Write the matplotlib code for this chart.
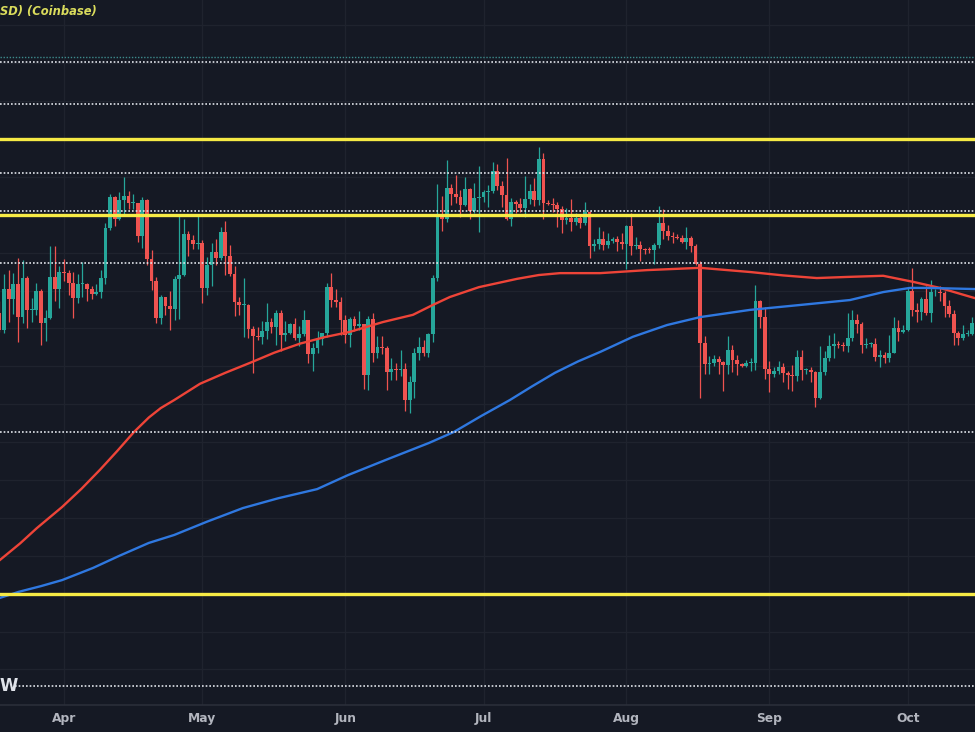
import matplotlib
matplotlib.use("Agg")
import matplotlib.pyplot as plt
import matplotlib.dates as mdates
import numpy as np
import pandas as pd

# daily candles, 18 Mar -> 15 Oct 2023 (BTC/USD, Coinbase)
opens = [
    27420, 26960, 28030, 27790, 28170, 27300, 28340, 27480, 27490, 27990, 27140, 27270, 28360, 28030,
    28480, 28470, 28200, 27800, 28170, 28170, 28040, 27920, 27950, 28330, 29650, 30470, 29900, 30400, 30490,
    30310, 30320, 29440, 30390, 28820, 28250, 27270, 27820, 27590, 27520, 28300, 28420, 29480, 29330, 29240,
    29250, 28070, 28680, 29030, 28850, 29540, 28900, 28450, 27700, 27630, 27630, 26990, 26800, 26780, 26930,
    27170, 27030, 27400, 26830, 26890, 27120, 26750, 26850, 27220, 26330, 26480, 26720, 26870, 28090, 27750, 27700,
    27220, 26820, 27250, 27070, 27120, 25760, 27240, 26340, 26500, 26480, 25850, 25940, 25900, 25920, 25120,
    25580, 26340, 26510, 26340, 26850, 28330, 30000, 29890, 30700, 30550, 30470, 30270, 30690, 30090, 30450,
    30480, 30590, 30620, 31160, 30770, 30510, 29900, 30350, 30290, 30170, 30410, 30620, 30390, 31460, 30320,
    30290, 30250, 30140, 29860, 29910, 29800, 29910, 29790, 30080, 29180, 29230, 29350, 29210, 29320, 29360, 29280,
    29230, 29700, 29180, 29190, 29110, 29070, 29060, 29200, 29770, 29580, 29440, 29420, 29400, 29280, 29400,
    29170, 28700, 26620, 26050, 26100, 26190, 26120, 26040, 26430, 26170, 26050, 26010, 26090, 26100, 27730, 27300,
    25930, 25800, 25870, 25970, 25830, 25780, 25750, 26240, 25900, 25900, 25840, 25160, 25840, 26230, 26530,
    26600, 26570, 26530, 26760, 27210, 27130, 26570, 26580, 26580, 26250, 26300, 26220, 26360, 27020, 26910,
    26970, 27990, 27500, 27430, 27790, 27410, 27950, 27970, 27940, 27590, 27390, 26870, 26760, 26860, 26860,
]
highs = [
    27730, 28430, 28540, 28470, 28870, 28800, 28390, 27800, 28200, 28040, 27500, 29180, 29170, 28660,
    28820, 28530, 28490, 28450, 28760, 28190, 28110, 28170, 28530, 29770, 30560, 30500, 30600, 31000, 30620,
    30550, 30320, 30470, 30410, 29080, 28370, 27880, 27820, 28000, 28390, 30020, 29880, 29570, 29460, 29960,
    29330, 28880, 29260, 29360, 29680, 29840, 29200, 28640, 27830, 28330, 27640, 27070, 27030, 27190, 27660,
    27270, 27480, 27480, 27190, 27150, 27270, 27070, 27490, 27220, 26620, 26930, 26890, 28200, 28460, 28050, 27840,
    27350, 27300, 27320, 27450, 27130, 27340, 27400, 26800, 26790, 26530, 26210, 26100, 26420, 26080, 25750,
    26490, 26780, 26690, 26890, 28400, 30800, 30500, 31440, 30810, 31050, 30660, 31000, 30700, 30830, 31280,
    30660, 30780, 31390, 31330, 30880, 31500, 30450, 30380, 30440, 31030, 30800, 30980, 31800, 31640, 30400,
    30450, 30340, 30240, 30190, 30420, 30050, 29990, 30350, 30100, 29350, 29690, 29570, 29530, 29420, 29450, 29530,
    29730, 30040, 29410, 29320, 29130, 29160, 29260, 30230, 30140, 29720, 29540, 29480, 29460, 29680, 29450,
    29240, 28770, 26810, 26260, 26300, 26260, 26140, 26800, 26560, 26310, 26090, 26170, 26220, 28140, 27760, 27570,
    26130, 25970, 26130, 26090, 25880, 26030, 26440, 26440, 25950, 25990, 25880, 26550, 26400, 26820, 26890,
    26670, 26630, 27420, 27490, 27390, 27160, 26740, 26630, 26740, 26420, 26390, 26820, 27300, 27220, 27090,
    28060, 28600, 27680, 27820, 28130, 28280, 28040, 28130, 27990, 27740, 27480, 26940, 27100, 26950, 27300,
]
lows = [
    26900, 26880, 27160, 27370, 26650, 27150, 27020, 27160, 27360, 26560, 26670, 27240, 27720, 27530,
    28250, 27880, 27280, 27680, 27830, 27720, 27780, 27880, 27800, 28170, 29610, 29700, 29870, 29980, 30150,
    30150, 29270, 29120, 28670, 28010, 27140, 27130, 27350, 26960, 27220, 27250, 28380, 28900, 29090, 29090,
    27670, 27880, 28130, 28680, 28810, 28400, 28390, 27340, 27360, 26780, 26750, 25820, 26700, 26600, 26730,
    26870, 26560, 26400, 26670, 26850, 26690, 26540, 26810, 26080, 25880, 26340, 26560, 26770, 27560, 27560, 26840,
    26610, 26510, 26930, 26970, 25390, 25380, 26120, 26220, 26320, 25380, 25650, 25650, 25740, 24830, 24780,
    25170, 26160, 26280, 26250, 26650, 28260, 29570, 29820, 30270, 30310, 29930, 30230, 29900, 30050, 29550,
    30330, 30210, 30570, 30650, 30200, 29850, 29710, 30050, 30080, 29950, 30290, 30220, 30250, 29900, 30250,
    30080, 29680, 29520, 29760, 29570, 29730, 29640, 29730, 28860, 29040, 29100, 29080, 29120, 29260, 29040, 29110,
    28580, 28950, 29090, 28770, 28960, 28980, 28700, 29130, 29370, 29340, 29250, 29370, 29260, 29110, 29020,
    28680, 25170, 25810, 25800, 26000, 25810, 25350, 25800, 25860, 25780, 25980, 25970, 25870, 25910, 27020, 25660,
    25330, 25720, 25810, 25600, 25390, 25360, 25620, 25650, 25800, 25580, 24920, 25150, 25760, 26130, 26230,
    26480, 26400, 26380, 26680, 26880, 26360, 26480, 26500, 26140, 25990, 26100, 26120, 26340, 26670, 26890,
    26940, 27330, 27160, 27220, 27360, 27180, 27850, 27730, 27300, 27290, 26560, 26560, 26700, 26810, 26820,
]
closes = [
    26960, 28030, 27790, 28170, 27300, 28340, 27480, 27490, 27990, 27140, 27270, 28360, 28030, 28480,
    28470, 28200, 27800, 28170, 28170, 28040, 27920, 27950, 28330, 29650, 30470, 29900, 30400, 30490, 30310,
    30320, 29440, 30390, 28820, 28250, 27270, 27820, 27590, 27520, 28300, 28420, 29480, 29330, 29240, 29250,
    28070, 28680, 29030, 28850, 29540, 28900, 28450, 27700, 27630, 27630, 26990, 26800, 26780, 26930, 27170,
    27030, 27400, 26830, 26890, 27120, 26750, 26850, 27220, 26330, 26480, 26720, 26870, 28090, 27750, 27700, 27220,
    26820, 27250, 27070, 27120, 25760, 27240, 26340, 26500, 26480, 25850, 25940, 25900, 25920, 25120, 25580,
    26340, 26510, 26340, 26850, 28330, 30000, 29890, 30700, 30550, 30470, 30270, 30690, 30090, 30450, 30480,
    30590, 30620, 31160, 30770, 30510, 29900, 30350, 30290, 30170, 30410, 30620, 30390, 31460, 30320, 30290,
    30250, 30140, 29860, 29910, 29800, 29910, 29790, 30080, 29180, 29230, 29350, 29210, 29320, 29360, 29280, 29230,
    29700, 29180, 29190, 29110, 29070, 29060, 29200, 29770, 29580, 29440, 29420, 29400, 29280, 29400, 29170,
    28700, 26620, 26050, 26100, 26190, 26120, 26040, 26430, 26170, 26050, 26010, 26090, 26100, 27730, 27300, 25930,
    25800, 25870, 25970, 25830, 25780, 25750, 26240, 25900, 25900, 25840, 25160, 25840, 26230, 26530, 26600,
    26570, 26530, 26760, 27210, 27130, 26570, 26580, 26580, 26250, 26300, 26220, 26360, 27020, 26910, 26970,
    27990, 27500, 27430, 27790, 27410, 27950, 27970, 27940, 27590, 27390, 26870, 26760, 26860, 26860, 27150,
]

# moving averages (days counted from 1 Apr)
red_ma_day = [-13.9, -9.5, -5.9, -0.4, 3.8, 7.8, 11.5, 15.2, 18.4, 21.0, 23.9, 29.5, 35.0, 40.3, 45.6, 51.2,
              56.5, 62.0, 69.2, 75.7, 80.0, 83.7, 90.0, 98.3, 103.0, 107.6, 116.3, 126.5, 138.0, 148.8,
              156.0, 163.3, 170.0, 177.7, 184.2, 190.0, 197.6]
red_ma_val = [20890, 21330, 21730, 22290, 22770, 23270, 23760, 24270, 24650, 24900, 25110, 25540, 25830, 26090,
              26360, 26600, 26770, 26910, 27170, 27360, 27620, 27830, 28090, 28310, 28410, 28460, 28460, 28540,
              28600, 28490, 28400, 28330, 28360, 28390, 28230, 28070, 27800]
blue_ma_day = [-13.9, -9.8, -5.0, -0.4, 6.3, 12.0, 18.4, 23.9, 31.0, 38.8, 46.5, 54.9, 61.6, 70.0, 79.2, 84.6,
               90.5, 96.7, 101.5, 106.5, 111.5, 116.3, 123.4, 130.8, 138.0, 148.8, 159.7, 170.5, 177.7, 183.5,
               187.2, 197.6]
blue_ma_val = [19890, 20050, 20200, 20360, 20680, 21000, 21340, 21550, 21900, 22260, 22520, 22760, 23130, 23540,
               23980, 24270, 24690, 25110, 25470, 25830, 26130, 26380, 26780, 27090, 27300, 27490, 27620, 27750,
               27960, 28070, 28070, 28040]

yellow_levels = [32000, 30000, 20000]
dotted_levels = [34030, 32920, 31100, 30100, 28730, 24270]
low_level = 17560
teal_levels = [34160]

BG = "#151924"
GRID = "#1f232e"
UP = "#26a69a"
DOWN = "#ef5350"

dates = pd.date_range("2023-03-18", periods=len(closes), freq="D")
x = mdates.date2num(dates)
apr1 = mdates.date2num(pd.Timestamp("2023-04-01"))
o = np.array(opens, float)
h = np.array(highs, float)
l = np.array(lows, float)
c = np.array(closes, float)
cols = np.where(c >= o, UP, DOWN)

fig = plt.figure(figsize=(9.75, 7.32), dpi=100, facecolor=BG)
ax = fig.add_axes([0, 27 / 732, 1, 705 / 732])
ax.set_facecolor(BG)

px_day = 4.61
ax.set_xlim(apr1 - 64 / px_day, apr1 + (975 - 64) / px_day)
ax.set_ylim(17063, 35668)

months = pd.date_range("2023-04-01", "2023-10-01", freq="MS")
ax.set_xticks(mdates.date2num(months))
ax.set_xticklabels([m.strftime("%b") for m in months])
ax.set_yticks(np.arange(18000, 36000, 1000))
ax.tick_params(axis="x", length=0, colors="#b2b5be", labelsize=8.8, pad=5)
for t in ax.get_xticklabels():
    t.set_fontweight("bold")
ax.tick_params(axis="y", length=0, labelleft=False)
ax.grid(True, color=GRID, lw=0.9)
ax.set_axisbelow(True)
for s in ["top", "left", "right"]:
    ax.spines[s].set_visible(False)
ax.spines["bottom"].set_color("#2a2e39")
ax.spines["bottom"].set_linewidth(1.2)

# candles
ax.vlines(x, l, h, colors=cols, lw=0.9, zorder=2)
body = np.maximum(np.abs(c - o), 25)
ax.bar(x, body, bottom=np.minimum(o, c), width=0.82, color=cols, edgecolor="none", zorder=3)

# moving averages
ax.plot(apr1 + np.array(red_ma_day), red_ma_val, color="#ee4438", lw=1.7, zorder=4)
ax.plot(apr1 + np.array(blue_ma_day), blue_ma_val, color="#2f78e0", lw=1.7, zorder=4)

# drawn levels
for lv in dotted_levels:
    ax.axhline(lv, color="#e0e3ea", lw=1.2, ls=(0, (1, 1.2)), zorder=5)
ax.axhline(low_level, xmin=15 / 975, color="#e0e3ea", lw=1.2, ls=(0, (1, 1.2)), zorder=5)
for lv in teal_levels:
    ax.axhline(lv, color="#3d8a8c", lw=1.0, ls=(0, (1, 1.2)), zorder=5)
for lv in yellow_levels:
    ax.axhline(lv, color="#f6ea45", lw=2.4, zorder=6)

ax.text(0, low_level, "W", color="#e0e3ea", fontsize=12, fontweight="bold",
        ha="left", va="center", transform=ax.get_yaxis_transform(), zorder=7)
fig.text(0, 1 - 12 / 732, "SD) (Coinbase)", color="#dadc5c", fontsize=8.3,
         fontweight="bold", fontstyle="italic", ha="left", va="center")

fig.savefig("out.png", dpi=100, facecolor=BG)
